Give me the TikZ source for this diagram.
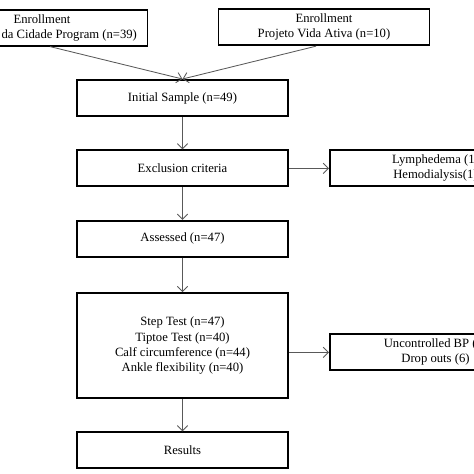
\documentclass[tikz,border=0pt]{standalone}
\usepackage{fontspec}
\setmainfont{Liberation Serif}
\usetikzlibrary{positioning,arrows.meta}

\begin{document}
\begin{tikzpicture}[->, >={Straight Barb[length=1.3mm,width=2.6mm]}, thin, node distance=0.81cm,
    box/.style={rectangle, draw=black, line width=1.4pt, minimum width=5.275cm, minimum height=0.9cm, align=center, font=\fontsize{9}{10.7}\selectfont},
    link/.style={draw=black!65, line width=0.6pt}]
        \useasboundingbox (0,0) rectangle (11.85,-11.85);
        \clip (0,0) rectangle (11.85,-11.85);

        \node[box] (enrollA) at (1.05,-0.69) {Enrollment\\Academia da Cidade Program (n=39)};
        \node[box] (enrollB) at (8.1,-0.68) {Enrollment\\Projeto Vida Ativa (n=10)};
        \node[box] (initial) at (4.5625,-2.45) {Initial Sample (n=49)};
        \node[box] (exclusion) [below=of initial] {Exclusion criteria};
        \node[box] (lymph) [right=1cm of exclusion] {Lymphedema (1)\\Hemodialysis(1)};
        \node[box] (assessed) [below=of exclusion] {Assessed (n=47)};
        \node[box, minimum height=2.62cm] (tests) [below=0.86cm of assessed] {Step Test (n=47)\\Tiptoe Test (n=40)\\Calf circumference (n=44)\\Ankle flexibility (n=40)};
        \node[box] (dropout) [right=1cm of tests, yshift=-0.17cm] {Uncontrolled BP (1)\\Drop outs (6)};
        \node[box] (results) [below=of tests] {Results};

        \path[every edge/.append style={link}]
        ([xshift=0.2cm]enrollA.south) edge (initial.north)
        ([xshift=-0.2cm]enrollB.south) edge (initial.north)
        (initial) edge (exclusion)
        (exclusion) edge (lymph)
        (exclusion) edge (assessed)
        (assessed) edge (tests)
        (dropout.west -| tests.east) edge (dropout.west)
        (tests) edge (results);

    \end{tikzpicture}
\end{document}
